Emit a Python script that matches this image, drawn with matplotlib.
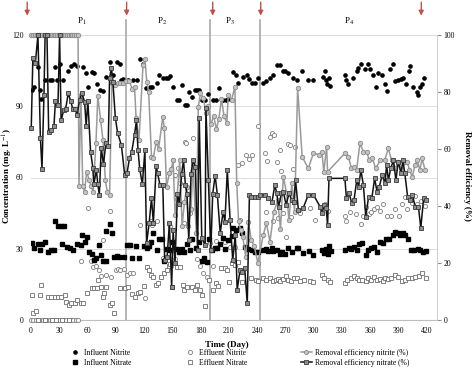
import matplotlib
matplotlib.use('Agg')
import matplotlib.pyplot as plt
from matplotlib.lines import Line2D

plt.rcParams['font.family'] = ['Liberation Serif', 'DejaVu Serif']
plt.rcParams['mathtext.fontset'] = 'stix'

# ---------------- data (day, value) ----------------
influent_nitrite = [(1,96.8),(3.5,98),(7,106.7),(9.5,96.8),(11,93),(15,101),(20,101),(22,101),(25.5,106.7),(28,101),
    (31,108),(34,101),(39.6,105),(42.5,107),(45.7,108),(49,107),(55.5,106.7),(58,104),(61,98),(64.4,104.6),
    (67,104),(69.7,99.4),(73,96.8),(76,96.5),(79.6,102.5),(84,108.7),(87,103),(91.6,108.7),(94.5,108),(96,101),
    (98,101.5),(103,101),(108.6,101),(113,101),(115.7,110),(119,108),(121.8,97.5),(126,98),(129,98),(133.5,99.6),
    (136,103),(140,102),(143,102),(146,101.7),(148,102.8),(151,98),(154.7,92.6),(157,92.6),(160,99),(163.5,90.5),
    (166,90.5),(168,96),(170.5,94),(174,96.8),(176,96.8),(178,97),(182,92.6),(185,92.6),(187.5,95),(193.6,92.6),
    (197,92.6),(200,97.5),(204,92.6),(207,92.6),(209,93),(214.8,104.6),(218,103),(220,100),(225,102.5),(229,103),
    (232,101.6),(235,99.6),(238,99.7),(241,101.8),(246.7,99.7),(250,100.6),(254,101.8),(257,103),(261.6,107.5),(265,107.5),
    (267.5,105),(270,104.7),(273,104),(278.6,101.8),(282,101),(287.5,105),(294.5,101),(299,101),(310.5,102.5),(312,105),
    (313,101),(314,99.5),(316,102),(317.5,98.7),(333.4,103),(335,101),(337,99.5),(342,101.8),(345.8,105),(347.5,106),
    (350.4,108),(354.6,105.5),(357.5,108),(360,105.5),(363,103),(366,98),(369,104),(372.6,103),(376,99.4),(378.6,96.5),
    (381.5,105.6),(384,108),(386.5,100.5),(390,101),(392.5,101.5),(395,102),(398.5,99.5),(401.3,105),(402.7,107),(405.6,98),
    (409.5,96),(411,94.7),(413.5,98),(415.5,99.5),(417.5,102)]

influent_nitrate = [(0.7,32.3),(3.5,30.5),(7,31.8),(9.5,29.5),(12,31.8),(15,33),(18.4,28.8),(21.8,29.5),(24,29.5),(25.5,41.8),
    (29,39.7),(32,39.7),(35,39.7),(32.5,31.8),(38,30.9),(41,30.5),(45,29.5),(49,32),(52.7,31.5),(53.8,35.8),
    (57,33),(59,35),(62,28.7),(64.4,27.6),(67,25.3),(69,26),(72,31.5),(74,27.2),(77,24.8),(79.6,24.8),
    (80,37.5),(84,40.4),(86,36.5),(88,26.4),(91,27),(94,26.7),(99,26.7),(102,31.5),(105,31.5),(107,26),
    (112,31),(115,26.2),(120,31),(123,30.5),(125,31),(128,33),(130,36.5),(133.5,29.5),(136,34),(139,34),
    (141.5,25),(144,30),(148,29.5),(150,33),(155,30),(157,28.7),(160,30),(163,28.7),(166,31.8),(168.5,29.5),
    (171,34),(175,30.5),(178,33),(181.6,25),(184,26),(187,24.3),(189,34),(192,29.5),(195.5,30.5),(198,30.5),
    (201,32),(203.5,34.5),(206,30),(209,33.5),(213,35.5),(215,38.6),(218,37.9),(221.6,38.7),(224,36.5),(227,30.9),
    (231,30),(234.5,29.5),(238,28.8),(241.5,28.8),(246.7,29.5),(249.5,30),(252,28.9),(255.5,30.4),(257,28.9),(261,29.5),
    (264.5,27.8),(267,28.8),(270,28),(273.5,30.4),(277,28.8),(282,30.4),(284,30.4),(289,28.2),(295,28.9),(300,27.4),
    (309.5,29.5),(311,28.2),(313,30),(315,27.8),(316.6,31),(318.5,28.9),(334,29.5),(338,30.4),(340,29.8),(343,30.7),
    (346,29.5),(348.5,32),(352,32.3),(355.6,27.4),(358,29.5),(361,30.4),(364.6,30.7),(368,28.8),(371,33),(373.6,32.5),
    (377,34.3),(380.6,34.3),(384,35.8),(386.6,37.2),(389.4,36.5),(392.3,35.8),(394.7,36.5),(397.3,35.8),(400,34),(403.7,29.5),
    (407,29.5),(410.8,29.7),(413.5,29.5),(416,28.8),(419,28.9)]

effluent_nitrite = [(0,0),(2.5,0),(5,0),(7.5,0),(10,0),(12.5,0),(15,0),(17.5,0),(20,0),(22.5,0),(25,0),(27.5,0),(30,0),
    (32.5,0),(35,0),(37.5,0),(40,0),(42.5,0),(45,0),(47.5,0),(50,0),
    (53.4,25),(60.5,47),(64,24.7),(66,22.4),(69,22.8),(72,21),(74,18.7),(76.5,33.5),(80,19),(83.5,45.8),
    (85,18),(90,21),(92,21.5),(95,21),(98.5,21.5),(102,18.8),(105,20),(108.5,20),(115.7,40),(121,9.3),
    (127,41.7),(129,40),(134,41.7),(140.5,26),(147.5,39.5),(149,22.7),(151,67.5),(152.6,25.5),(153,61),(156.6,64),
    (158,57.7),(162,40.8),(163.5,75),(165,74.6),(169,45),(171.6,76.6),(176,25.5),(179.6,22.7),(183,20),(186.5,18),
    (190,32.4),(193.6,22.7),(197,33.3),(201,32),(206,33),(211,30.6),(216.6,30.6),(220,65.4),(222,42.2),(224.5,66),
    (228,69.5),(231.6,67.6),(235,69.5),(241,81.7),(248.5,70.5),(250,45.6),(251,67),(253.8,77),(256,78.7),(257,41.5),
    (258.5,78),(261.5,66.7),(262,42.8),(264,71.6),(266,62.6),(267.6,45),(271,35),(273,74.3),(274.7,73.6),(276.6,43.5),
    (278,63.7),(280,73),(285.6,45),(296,47),(302,42),(312,49),(315,46),(333.4,44),(335,41.8),(339,45.3),
    (345.7,44.6),(350,40.4),(353,44),(355.6,47.5),(359,44.6),(361,45.3),(364,46.7),(367,47.7),(370.5,46),(374,48.8),
    (378,44),(382.6,44),(387,46.7),(390.7,44),(394,48.8),(397,51.6),(399.6,46.7),(405,49.4),(408,52.2),(410.5,48.8),
    (414,50.2),(418,48)]

effluent_nitrate = [(7,0),(15,0),(22,0),(27,0),(33,0),(40,0),
    (0.7,10.5),(2.5,3),(5,3.9),(11,14.7),(10,10.5),(18,9.8),(21.5,9.8),(25,9.8),(28.5,9.8),(32,9.8),
    (36,10.5),(37.7,7.7),(40.3,6.3),(43,7.3),(46.5,7.3),(49,8.4),(52.7,7.3),(55.5,7),(60,11.2),(64.5,13.3),
    (67,13.3),(70,13.3),(71.5,17),(74,14),(76,9.8),(77.6,11.2),(80,14),(84,6.3),(86,7),(88,3.1),
    (95,13.3),(100,13.3),(103,14),(107,10.8),(111,9.8),(114,11.2),(116,11.9),(120,14.3),(123,22.4),(125,21),
    (127,18.9),(130,18.2),(132.6,14.7),(135,15.4),(138,17.9),(141,19.6),(144,21),(146.6,22.7),(148,23.4),(150,14),
    (155,22.2),(158,22.2),(161,14.7),(163,12.6),(166,14),(170.5,14),(174,12.6),(176,14.7),(179,12.6),(182,10.5),
    (185,5.9),(189,17),(193,12.6),(197,15.4),(199,14.3),(202,21.7),(206,21.7),(208.5,21.2),(210.7,16),(214,23.8),
    (216.6,23),(220,24.5),(224,16.1),(234,17.7),(239,17),(241.5,16.3),(246.7,17.7),(250,17),(254,17.7),(257,16.3),
    (260,16.8),(262.5,17.3),(265,16.3),(268,17.3),(270.7,18.7),(273,16.8),(276,16.3),(279,17.7),(282,17.7),(286,16.3),
    (289.6,17),(296.6,16.3),(300,15.9),(309.5,19),(311,17.7),(315,17),(318,15.9),(334,15.6),(336,17),(339.6,17.7),
    (343,18.4),(346,17.7),(348.5,16.8),(352,17),(356,16.3),(358,17.7),(361,17),(364.5,18.2),(368,17),(371,17.3),
    (373.6,16.3),(376,17.7),(379,17.3),(382,17.7),(386.5,19),(390,18.2),(394,16.3),(397,17),(400,17.7),(405,17.7),
    (408,18.2),(412,18.4),(415.5,20),(419,17.7)]

removal_nitrite = [(0,100),(2,100),(4,100),(6,100),(8,100),(10,100),(12,100),(14,100),(16,100),(18,100),(20,100),
    (22,100),(24,100),(26,100),(28,100),(30,100),(32,100),(34,100),(36,100),(38,100),(40,100),(42,100),(44,100),
    (46,100),(48,100),(50,100),
    (51,47),(53,79),(55,47),(57,45),(59,52),(62,49),(64,47),(66,45),(69,62),(71,78.6),(74,70),(76.5,63),(79,49),
    (81,45),(83.5,44),(86,83),(89.6,82.6),(92,83),(95,83),(98,83),(101,84),(104.6,83.7),(107.5,81),(110,81.9),
    (111.6,71),(114.7,63),(119,89.5),(121,91.5),(123,83.6),(125,80),(128,57.3),(130,57),(133,62.6),(135.5,60),
    (140,71.3),(141.6,67.3),(144,46.8),(147,51.5),(149,53),(151,56),(153,37),(155,42.5),(158,56),(160.5,33),
    (163,41.3),(165.5,46.8),(167,33),(170,39),(172,54.6),(175.6,30.4),(177.7,74.8),(180,79.5),(183,77.8),(186,72.5),
    (188.5,75),(191,68.6),(194,71.6),(197,67),(199.5,70.5),(202.3,77.6),(205,71.6),(208,69.2),(209.5,78.9),(213,77.2),
    (216.6,81.9),(218.5,48),(220.5,34.6),(222.6,31.6),(225,29.2),(228,22.2),(231,34.5),(234,28),(237,26),(241,20),
    (246.7,29.8),(250,34),(253.8,27.5),(258,38),(262,42),(265,32),(268,50.3),(271.5,44.4),(274,35),(277,48),
    (280,38),(283.2,81.3),(288,57.3),(294.5,53.2),(300,58.5),(306,58),(309,59),(311,52),(314,60.8),(315,52),
    (333.4,58.5),(337,57.3),(340.4,53.2),(343,53.8),(345.8,52.6),(349.4,62),(353,59),(356.6,59),(359.4,56),(362.6,56.7),
    (366,53.2),(371,56),(375.6,56),(379.5,60.2),(383,56),(387,53.2),(390.3,55.6),(394,52.6),(397,55.6),(399.6,55.6),
    (402,52.6),(405,50.3),(407.8,54.4),(410.2,56),(413,52.6),(415.5,56.7),(418.5,52.6)]

removal_nitrate = [(0.3,67.4),(2,92),(4.6,90),(7.4,100),(10,64),(11.7,53),(13.8,79),(15,100),(17,100),(18.8,66),
    (21.7,66.5),(24.4,68),(26,77),(28.7,75.6),(30.4,100),(32,70),(34.7,73.6),(36.8,74),(39.6,79.6),(42,77),
    (44.5,74),(47,74),(49,72),(51.6,77.3),(54,79.6),(57,76.5),(58.6,68),(60.4,77),(63.3,59),(65.7,53.5),
    (66.7,47.6),(69.5,52.6),(71,47.6),(72.6,44),(74.6,60.4),(77,54.6),(79.5,62),(82,61),(83.5,85),(85.5,88.4),
    (87,83.6),(89.6,71),(92,65.6),(96,61.4),(99.5,51),(102,51.5),(104.6,56.7),(107,59),(110,65),(112,70),
    (113.7,59.6),(115.5,53),(118.3,47.7),(121,59.6),(122.8,26.9),(125.5,34),(128,42.7),(130,34),(133,54.2),(134.5,51.5),
    (137,47.4),(140,47.4),(142,21),(144.6,22.2),(147,33.9),(149.4,11.7),(151,31.6),(153,19.9),(155.6,44.3),(157.7,40.8),
    (160,51.3),(162,56),(164,47.4),(165.7,44.3),(167.6,27.9),(170,51.3),(172,56),(174.5,53.8),(177,24.6),(178.7,70.8),
    (181.4,28.7),(185,26.4),(185.8,74.3),(188.5,49),(191,24.6),(193,44.3),(195.6,50.7),(198,43.7),(201,30.4),(204,38),
    (206,34.5),(208.5,52.6),(211.5,35.1),(214.3,21),(217,29.8),(219,10.5),(222,17.5),(224.5,17),(227,18.1),(229.7,5.8),
    (232,43.9),(234,43.3),(237.6,43.3),(241,43.3),(243,43.9),(248.5,43.9),(252,42.7),(256,41.5),(259,47.4),(261,44.4),
    (263,39.8),(266,44.4),(268,45),(271,40.4),(274,44.4),(277,42),(279,41.5),(281,49),(284,38.6),(289,39.2),
    (294.5,43.9),(300,43.9),(307,39.8),(309,37.4),(311.5,40.4),(313.5,39.2),(315,33.3),(316.5,49.7),(333.4,49.7),(335,42.7),
    (338,44.4),(340.6,41),(343,42),(346,49),(348,46.8),(350.4,52.6),(353,47.4),(355.6,36.3),(358.6,43.3),(362,42.7),
    (365,49.7),(367.5,45),(370,46.8),(373,50.9),(376,48),(377.7,54.4),(379.6,49),(382,53.2),(385,56),(387.6,49),
    (390,55.6),(393,51.5),(395,56),(397,51.5),(400,43.3),(402.6,42),(405,43.9),(408,39.8),(411.5,39.8),(414,32.2),
    (417,42.7),(419,42)]

phase_lines = [101, 190, 243]
arrow_days = [-4, 101.6, 193, 244, 414.5]
phase_labels = ['P$_1$', 'P$_2$', 'P$_3$', 'P$_4$']
phase_label_days = [54, 139, 211, 338]
x_ticks = list(range(0, 421, 30))
left_ticks = [0, 30, 60, 90, 120]
right_ticks = [0, 20, 40, 60, 80, 100]
legend_labels = ['Influent Nitrite', 'Influent Nitrate', 'Effluent Nitrite', 'Effluent Nitrate',
                 'Removal efficiency nitrite (%)', 'Removal efficiency nitrate (%)']

def split(pairs):
    return [p[0] for p in pairs], [p[1] for p in pairs]

# ---------------- figure ----------------
fig = plt.figure(figsize=(4.74, 3.72), dpi=100)
ax = fig.add_axes([30.5/474, 52/372, 406.3/474, 285/372])
ax2 = ax.twinx()

ax.set_xlim(-0.5, 431)
ax.set_ylim(0, 120)
ax2.set_ylim(0, 100)

ax.set_yticks(left_ticks)
ax.set_xticks(x_ticks)
ax2.set_yticks(right_ticks)
ax.grid(axis='y', color='#dcdcdc', lw=0.7)
ax.set_axisbelow(True)

for s in ['top', 'left', 'right']:
    ax.spines[s].set_visible(False)
ax.spines['bottom'].set_color('#bdbdbd')
for s in ['top', 'left', 'bottom']:
    ax2.spines[s].set_visible(False)
ax2.spines['right'].set_color('#d0d0d0')
ax.tick_params(axis='both', length=0, labelsize=5.5, pad=5)
ax2.tick_params(axis='y', length=3, color='#8c8c8c', labelsize=5.5, pad=2, direction='out')

# concentrations
x, y = split(effluent_nitrite)
ax.plot(x, y, ls='none', marker='o', ms=3, mfc='white', mec='#7f7f7f', mew=0.6, clip_on=False, zorder=3)
x, y = split(effluent_nitrate)
ax.plot(x, y, ls='none', marker='s', ms=3.3, mfc='white', mec='#6e6e6e', mew=0.6, clip_on=False, zorder=3)
x, y = split(influent_nitrite)
ax.plot(x, y, ls='none', marker='o', ms=2.3, mfc='black', mec='black', zorder=4)
x, y = split(influent_nitrate)
ax.plot(x, y, ls='none', marker='s', ms=2.8, mfc='black', mec='black', zorder=4)

# removal efficiencies
x, y = split(removal_nitrite)
ax2.plot(x, y, color='#9a9a9a', lw=1.1, marker='o', ms=3.2, mfc='#c4c4c4', mec='#8a8a8a', mew=0.6, zorder=3, clip_on=False)
x, y = split(removal_nitrate)
ax2.plot(x, y, color='#111111', lw=1.1, marker='s', ms=3.2, mfc='#8e8e8e', mec='#3a3a3a', mew=0.6, zorder=4, clip_on=False)

# phase lines, arrows, labels
trans = ax.get_xaxis_transform()
for d in phase_lines:
    ax.axvline(d, ymin=0, ymax=1.053, color='#a8a8a8', lw=1.2, clip_on=False, zorder=2)
for d in arrow_days:
    ax.annotate('', xy=(d, 1.058), xytext=(d, 1.125), xycoords=trans, textcoords=trans,
                arrowprops=dict(arrowstyle='-|>', color='#c0504d', lw=1.0, mutation_scale=7),
                annotation_clip=False)
for lab, d in zip(phase_labels, phase_label_days):
    ax.text(d, 1.046, lab, transform=trans, ha='center', va='center', fontsize=6.5)

# axis labels
fig.text(226.5/474, (372-345)/372, 'Time (Day)', ha='center', va='center', fontsize=6.5, fontweight='bold')
fig.text(7.5/474, (372-176)/372, 'Concentration (mg. L$^{-1}$)', rotation=90, ha='center', va='center',
         fontsize=6.5, fontweight='bold')
fig.text(467/474, (372-176)/372, 'Removal efficiency (%)', rotation=270, ha='center', va='center',
         fontsize=6.5, fontweight='bold')

handles = [
    Line2D([], [], ls='none', marker='o', ms=2.3, color='black'),
    Line2D([], [], ls='none', marker='s', ms=2.8, color='black'),
    Line2D([], [], ls='none', marker='o', ms=3, mfc='white', mec='#7f7f7f', mew=0.6),
    Line2D([], [], ls='none', marker='s', ms=3.3, mfc='white', mec='#6e6e6e', mew=0.6),
    Line2D([], [], color='#9a9a9a', lw=1.1, marker='o', ms=3, mfc='#c4c4c4', mec='#8a8a8a', mew=0.6),
    Line2D([], [], color='#111111', lw=1.1, marker='s', ms=3, mfc='#8e8e8e', mec='#3a3a3a', mew=0.6),
]
fig.legend(handles, legend_labels, ncol=3, loc='upper center', bbox_to_anchor=(0.505, 0.062),
           frameon=False, fontsize=5.5, columnspacing=7, handlelength=1.5, handletextpad=0.4,
           labelspacing=0.25, borderaxespad=0, borderpad=0)

fig.savefig('out.png', dpi=100)
